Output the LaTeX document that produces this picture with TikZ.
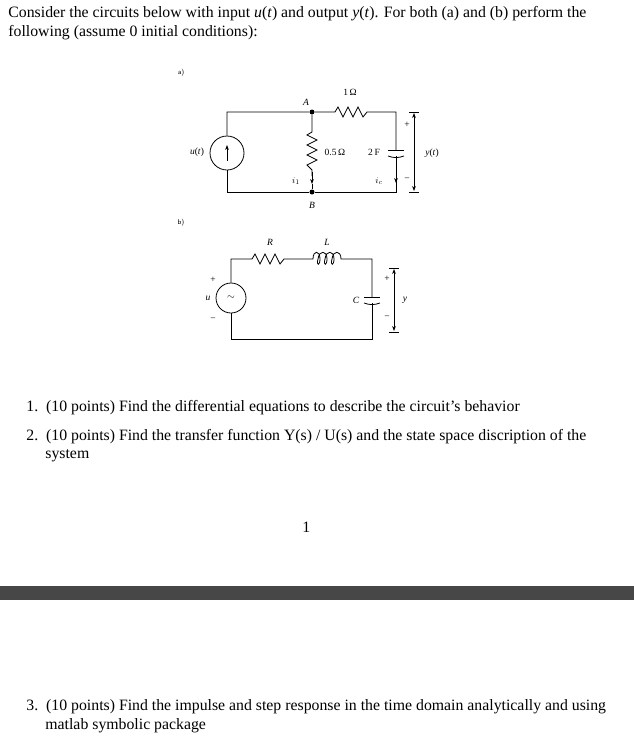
\documentclass[tikz,border=0pt]{standalone}
\usepackage{fontspec}
\setmainfont{Liberation Serif}
\usetikzlibrary{arrows.meta}
\begin{document}
\begin{tikzpicture}[x=1pt,y=-1pt,line width=0.8pt,
  txt/.style={anchor=west,inner sep=0,font=\fontsize{15.8}{19}\selectfont},
  lbl/.style={inner sep=0,font=\fontsize{9.5}{10}\selectfont},
  dot/.style={circle,fill,inner sep=0,minimum size=5pt},
  arr/.style={-{Stealth[length=5pt]}}]
\useasboundingbox (0,0) rectangle (634,742);
\node[txt] (t1) at (8,14) {Consider the circuits below with input \textit{u}(\textit{t}) and output \textit{y}(\textit{t}). For both (a) and (b) perform the};
\node[txt] (t2) at (8,33) {following (assume 0 initial conditions):};
\node[lbl,font=\sffamily\fontsize{7}{8}\selectfont] (la) at (181,73) {a)};
% circuit a
\coordinate (TL) at (227,112); \coordinate (BL) at (227,192);
\node[dot] (A) at (312,112) {}; \node[dot] (B) at (312,192) {};
\coordinate (TR) at (396,112); \coordinate (BR) at (396,192);
\node[circle,draw,minimum size=34pt,inner sep=0] (S) at (227,153) {};
\draw[arr] (227,161) -- (227,145);
\draw (S.north) -- (TL) -- (A) -- (335,112) -- (338,107) -- (343,117) -- (348,107) -- (353,117) -- (358,107) -- (363,117) -- (367,112) -- (TR) -- (396,150);
\draw (396,156) -- (BR) -- (B) -- (BL) -- (S.south);
\draw (388,150) -- (404,150); \draw (388,156) to[bend right=20] (404,156);
\draw (A) -- (312,132) -- (307,135) -- (317,140) -- (307,145) -- (317,150) -- (307,155) -- (317,160) -- (307,165) -- (312,170) -- (312,176);
\draw[arr] (312,172) -- (312,184); \draw (312,184) -- (B);
\draw[arr] (396,165) -- (396,183);
\draw[{Stealth[length=5pt]}-{Stealth[length=5pt]}] (414,113) -- (414,191);
\draw (409,112) -- (419,112); \draw (409,192) -- (419,192);
\node[lbl] (l1) at (350,92) {1\,Ω};
\node[lbl] (lA) at (306,102) {\textit{A}};
\node[lbl] (lB) at (312,205) {\textit{B}};
\node[lbl] (l05) at (335,152) {0.5\,Ω};
\node[lbl] (l2F) at (374,152) {2\,F};
\node[lbl] (li1) at (296,181) {$i_1$};
\node[lbl] (lic) at (379,181) {$i_c$};
\node[lbl] (lp) at (407,125) {+};
\node[lbl] (lm) at (407,180) {−};
\node[lbl] (ly) at (432,153) {\textit{y}(\textit{t})};
\node[lbl] (lu) at (197,152) {\textit{u}(\textit{t})};
% circuit b
\node[lbl,font=\sffamily\fontsize{7}{8}\selectfont] (lb) at (181,223) {b)};
\node[circle,draw,minimum size=30pt,inner sep=0] (S2) at (231,298) {$\sim$};
\draw (S2.north) -- (231,259) -- (252,259) -- (255,254) -- (260,264) -- (265,254) -- (270,264) -- (275,254) -- (280,264) -- (284,259) -- (313,259)
 .. controls (313,250) and (320,250) .. (320,259) .. controls (320,266) and (316,266) .. (318,259)
 .. controls (319,250) and (327,250) .. (327,259) .. controls (327,266) and (323,266) .. (325,259)
 .. controls (326,250) and (334,250) .. (334,259) .. controls (334,266) and (330,266) .. (332,259)
 .. controls (333,250) and (341,250) .. (341,259) -- (372,259) -- (372,297);
\draw (372,303) -- (372,339) -- (231,339) -- (S2.south);
\draw (364,297) -- (380,297); \draw (364,303) to[bend right=20] (380,303);
\draw[{Stealth[length=5pt]}-{Stealth[length=5pt]}] (394,269) -- (394,331);
\draw (389,268) -- (399,268); \draw (389,332) -- (399,332);
\node[lbl] (lR) at (270,242) {\textit{R}};
\node[lbl] (lL) at (327,242) {\textit{L}};
\node[lbl] (lC) at (356,300) {\textit{C}};
\node[lbl] (lp2) at (387,279) {+};
\node[lbl] (lm2) at (387,318) {−};
\node[lbl] (ly2) at (405,300) {\textit{y}};
\node[lbl] (lp3) at (213,280) {+};
\node[lbl] (lu2) at (208,298) {\textit{u}};
\node[lbl] (lm3) at (213,320) {−};
% questions
\node[txt] (q1) at (26,408) {1.\ \ (10 points) Find the differential equations to describe the circuit’s behavior};
\node[txt] (q2) at (26,437) {2.\ \ (10 points) Find the transfer function Y(s) / U(s) and the state space discription of the};
\node[txt] (q2b) at (45,456) {system};
\node[txt] (pg) at (302,527) {1};
\fill[black!72] (0,586) rectangle (634,600);
\node[txt] (q3) at (26,707) {3.\ \ (10 points) Find the impulse and step response in the time domain analytically and using};
\node[txt] (q3b) at (45,726) {matlab symbolic package};
\end{tikzpicture}
\end{document}
